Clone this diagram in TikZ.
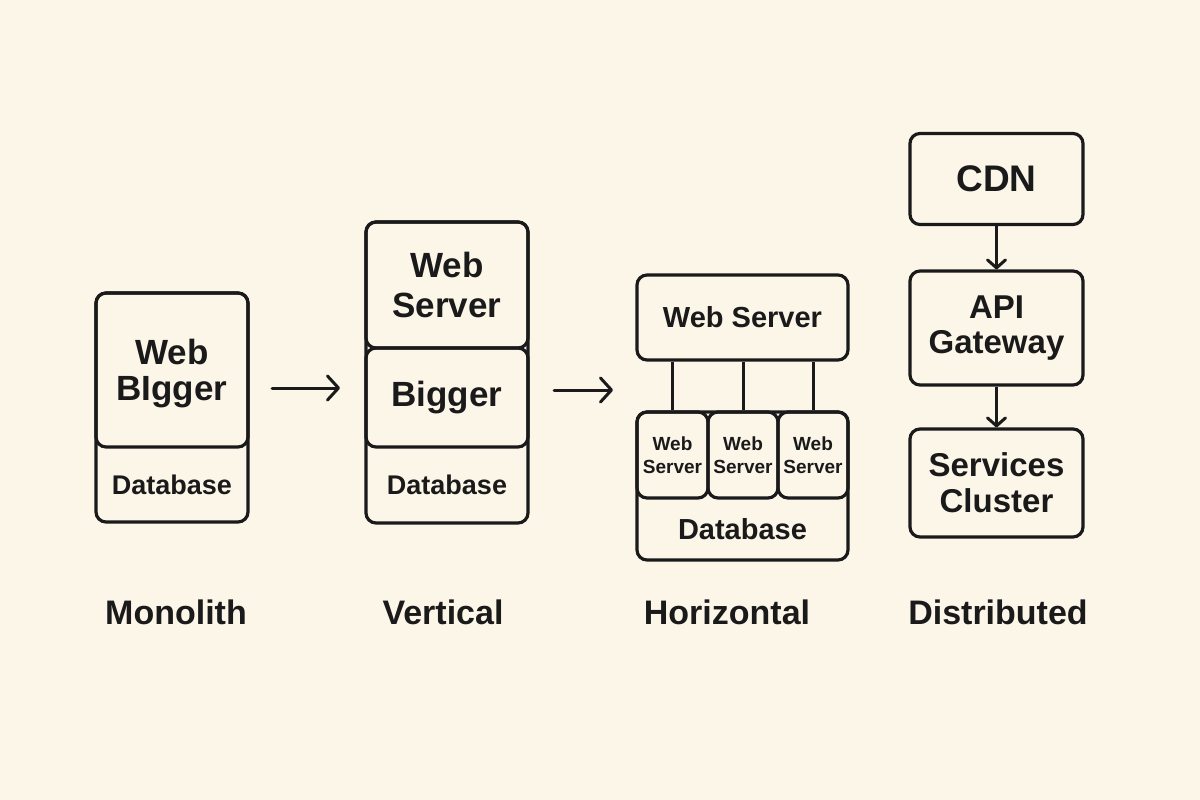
\documentclass[tikz,border=0pt]{standalone}
\usepackage{fontspec}
\setmainfont{Liberation Sans}
\usetikzlibrary{arrows.meta}
\definecolor{bg}{HTML}{FCF6E9}
\definecolor{ink}{HTML}{1A1A1A}
\begin{document}
\begin{tikzpicture}[x=1pt,y=-1pt,
  box/.style={draw=ink, line width=3.2pt, rounded corners=10pt, inner sep=0pt, align=center, text=ink},
  txt/.style={inner sep=0pt, align=center, text=ink},
  big/.style={font=\fontsize{35}{38}\selectfont\bfseries},
  mid/.style={font=\fontsize{29}{32}\selectfont\bfseries},
  db/.style={font=\fontsize{27}{30}\selectfont\bfseries},
  small/.style={font=\fontsize{19}{23}\selectfont\bfseries},
  lab/.style={font=\fontsize{34}{36}\selectfont\bfseries},
  arr/.style={draw=ink, line width=3pt, line cap=round, -{Straight Barb[length=11pt,width=24pt,line width=3pt, round]}},
  varr/.style={draw=ink, line width=3pt, -{Straight Barb[length=8pt,width=18pt,line width=3pt, round]}}
]
\fill[bg] (0,0) rectangle (1200,800);
\useasboundingbox (0,0) rectangle (1200,800);

% Monolith
\node[box, minimum width=152, minimum height=229] (mono) at (172,407.5) {};
\node[box, big, minimum width=152, minimum height=154, text depth=0pt] (monoweb) at (172,370) {Web\\[-2pt]BIgger};
\node[txt, db] (monodb) at (172,485) {Database};
\node[txt, lab] (lmono) at (176,612) {Monolith};

% arrow 1
\coordinate (a1s) at (272,388);
\coordinate (a1e) at (340,388);
\draw[arr] (a1s) -- (a1e);

% Vertical
\node[box, minimum width=162, minimum height=301] (vert) at (447,372.5) {};
\node[box, big, minimum width=162, minimum height=126] (vweb) at (447,285) {Web\\[2pt]Server};
\node[box, big, minimum width=162, minimum height=99] (vbig) at (447,397.5) {Bigger};
\node[txt, db] (vdb) at (447,485) {Database};
\node[txt, lab] (lvert) at (443,612) {Vertical};

% arrow 2
\coordinate (a2s) at (554,390);
\coordinate (a2e) at (613,390);
\draw[arr] (a2s) -- (a2e);

% Horizontal
\node[box, mid, minimum width=211, minimum height=85] (hweb) at (742.5,317.5) {Web Server};
\node[box, minimum width=211, minimum height=148] (hout) at (742.5,486) {};
\node[box, small, minimum width=71, minimum height=86] (s1) at (672.5,455) {Web\\Server};
\node[box, small, minimum width=70, minimum height=86] (s2) at (743,455) {Web\\Server};
\node[box, small, minimum width=70, minimum height=86] (s3) at (813,455) {Web\\Server};
\node[txt, mid] (hdb) at (742.5,529) {Database};
\foreach \s in {s1,s2,s3}{
  \draw[draw=ink, line width=3pt] (\s.north |- hweb.south) -- (\s.north);
}
\node[txt, lab] (lhor) at (727,612) {Horizontal};

% Distributed
\node[box, font=\fontsize{37}{40}\selectfont\bfseries, minimum width=173, minimum height=91] (cdn) at (996.5,179) {CDN};
\node[box, font=\fontsize{33}{35}\selectfont\bfseries, minimum width=173, minimum height=114] (api) at (996.5,328) {API\\Gateway};
\node[box, font=\fontsize{33}{36}\selectfont\bfseries, minimum width=173, minimum height=108] (svc) at (996.5,483) {Services\\Cluster};
\draw[varr] (cdn) -- (api);
\draw[varr] (api) -- (svc);
\node[txt, lab] (ldist) at (998,612) {Distributed};
\end{tikzpicture}
\end{document}
